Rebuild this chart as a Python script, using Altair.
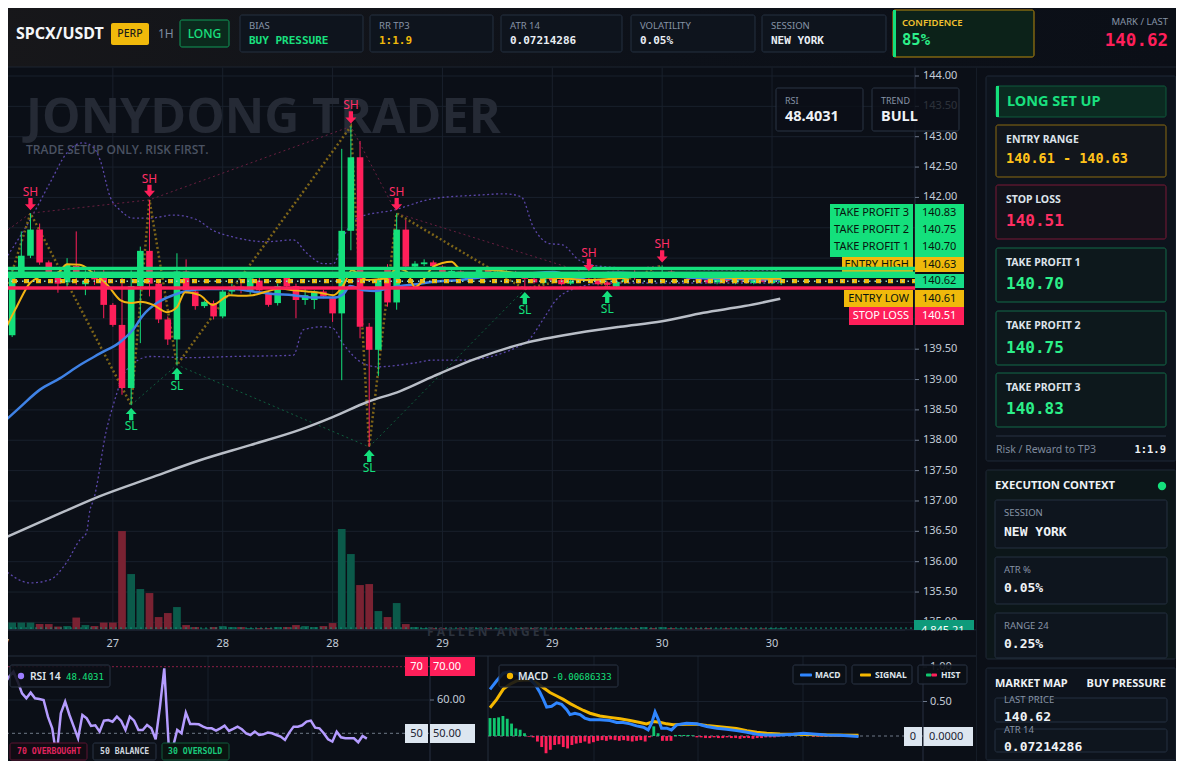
import altair as alt
import pandas as pd

# ---------------- values ----------------
OPEN = [140.43,139.73,140.75,141.04,141.47,140.93,140.69,140.60,140.87,140.57,
        140.74,140.68,140.23,139.90,138.86,140.54,141.12,140.58,139.99,139.66,
        140.78,140.45,140.21,140.26,140.04,140.45,140.53,140.45,140.63,140.43,
        140.26,140.69,140.54,140.31,140.31,140.45,140.34,140.09,141.45,142.66,
        139.87,139.49,140.82,140.27,141.47,140.86,140.90,140.93,140.86,140.76,
        140.78,140.69,140.70,140.84,140.74,140.77,140.77,140.73,140.66,140.59,
        140.67,140.64,140.58,140.69,140.66,140.64,140.60,140.53,140.61,140.74,
        140.72,140.76,140.74,140.78,140.74,140.70,140.67,140.64,140.60,140.67,
        140.60,140.63,140.59,140.65,140.59,140.60]
HIGH = [140.48,140.80,141.44,141.74,141.57,140.96,140.78,141.00,141.44,140.80,
        140.80,140.83,140.26,140.72,140.80,141.19,141.96,140.62,140.04,141.08,
        140.98,140.47,140.30,140.30,140.50,140.58,140.60,140.72,140.68,140.46,
        140.58,140.72,140.58,140.50,140.47,140.48,140.37,142.80,143.17,142.93,
        139.93,140.70,140.90,141.74,141.63,140.95,140.98,140.96,140.88,140.82,
        140.80,140.74,140.85,140.86,140.79,140.80,140.79,140.75,140.69,140.70,
        140.69,140.66,140.65,140.71,140.74,140.66,140.62,140.62,140.73,140.80,
        140.77,140.78,140.88,140.80,140.77,140.72,140.69,140.66,140.68,140.68,
        140.66,140.65,140.66,140.67,140.67,140.67]
LOW = [139.57,139.70,140.70,141.00,140.89,140.70,140.43,140.50,140.56,140.39,
       140.56,140.01,139.87,138.75,138.58,139.60,140.37,139.93,139.57,139.24,
       140.42,140.15,140.18,139.99,140.01,140.40,140.42,140.40,140.45,140.20,
       140.22,140.52,140.01,140.23,140.16,140.34,139.95,138.99,141.13,139.68,
       137.89,139.06,140.20,140.15,140.82,140.82,140.87,140.85,140.74,140.73,
       140.68,140.66,140.68,140.72,140.70,140.73,140.70,140.49,140.58,140.57,
       140.61,140.55,140.56,140.62,140.60,140.55,140.51,140.52,140.59,140.64,
       140.70,140.72,140.72,140.72,140.71,140.64,140.59,140.58,140.57,140.60,
       140.57,140.59,140.57,140.60,140.57,140.56]
CLOSE = [139.62,140.75,141.04,141.47,140.93,140.74,140.58,140.89,140.69,140.62,
         140.65,140.23,139.90,138.86,140.54,141.12,140.58,139.99,139.66,140.78,
         140.47,140.21,140.28,140.04,140.45,140.53,140.50,140.67,140.47,140.23,
         140.54,140.54,140.31,140.39,140.45,140.37,140.09,141.45,142.66,139.87,
         139.49,140.65,140.27,141.47,140.86,140.91,140.93,140.87,140.76,140.79,
         140.69,140.71,140.83,140.74,140.77,140.78,140.73,140.66,140.60,140.68,
         140.63,140.57,140.63,140.65,140.62,140.57,140.56,140.61,140.70,140.72,
         140.75,140.74,140.77,140.74,140.75,140.66,140.61,140.60,140.66,140.62,
         140.64,140.61,140.64,140.61,140.65,140.62]
VOLUME = [33000,27000,27000,27000,21000,21000,11000,13000,47000,17000,
          13000,27000,27000,393000,221000,161000,145000,49000,65000,89000,
          17000,9000,3000,9000,13000,9000,9000,5000,5000,5000,
          9000,9000,17000,13000,9000,13000,25000,401000,301000,177000,
          181000,73000,49000,105000,21000,9000,5000,5000,5000,3000,
          4000,3000,6000,5000,4000,3000,4000,6000,5000,4000,
          3000,4000,3000,5000,6000,4000,5000,6000,4000,5000,
          9000,5000,9000,5000,4000,3000,4000,5000,3000,4000,
          3000,4000,3000,4000,5000,4845.21]

TIME_IDX = [0, 12, 24, 36, 48, 60, 72, 84]
TIME_LABELS = ["27", "27", "28", "28", "29", "29", "30", "30"]
PRICE_TICKS = [144.0, 143.5, 143.0, 142.5, 142.0, 141.5, 141.0, 140.5, 140.0, 139.5,
               139.0, 138.5, 138.0, 137.5, 137.0, 136.5, 136.0, 135.5, 135.0]
# the labels of 141.50 ... 140.00 sit under the level tags in the picture
PRICE_LABEL_TICKS = [144.0, 143.5, 143.0, 142.5, 142.0, 139.5, 139.0, 138.5, 138.0, 137.5,
                     137.0, 136.5, 136.0, 135.5, 135.0]

EMA_FAST_IDX = [-0.3,0.4,1.5,2.95,4.0,6.0,7.0,8.4,9.8,11.4,12.8,13.9,15.0,16.4,17.9,19.0,19.9,
                21.5,22.9,24.8,25.9,27.3,28.8,30.3,31.7,33.2,34.6,36.1,37.2,38.1,39.0,39.7,40.8,
                41.9,43.0,44.1,45.0,45.9,47.0,49.0,49.9,52.1,55.7,58.4,61.1,63.8,67.4,72.0,76.5,81.0,85.0]
EMA_FAST = [139.62,139.87,140.20,140.59,140.69,140.76,140.90,140.89,140.76,140.56,140.31,140.26,
            140.28,140.23,140.11,140.19,140.44,140.39,140.23,140.39,140.38,140.39,140.45,
            140.50,140.47,140.45,140.43,140.39,140.56,140.80,140.72,140.64,140.65,140.67,140.83,
            140.78,140.52,140.64,140.86,140.94,140.83,140.82,140.76,140.69,140.67,140.64,140.67,
            140.75,140.69,140.67,140.66]
EMA_SLOW_IDX = [-0.3,1.9,4.0,6.2,8.4,10.6,12.8,14.2,15.3,16.8,18.6,20.1,22.2,25.2,27.3,29.5,31.7,
                33.9,36.1,37.2,37.9,39.4,40.8,41.9,43.4,45.2,47.0,49.9,52.1,53.9,57.0,60.2,62.9,
                64.7,67.4,72.0,76.5,85.0]
EMA_SLOW = [138.25,138.55,138.83,139.02,139.24,139.43,139.62,139.82,140.06,140.26,140.39,140.46,
            140.49,140.49,140.45,140.41,140.39,140.35,140.35,140.41,140.54,140.47,140.46,140.50,
            140.54,140.57,140.61,140.64,140.68,140.70,140.74,140.77,140.66,140.74,140.76,140.72,
            140.67,140.65]
SMA_IDX = [-0.3,5.1,10.6,16.1,21.5,27.0,32.4,36.0,39.8,43.4,47.1,51.6,57.0,62.9,67.4,72.0,76.5,81.0,84.9]
SMA = [136.36,136.72,137.08,137.38,137.67,137.92,138.17,138.38,138.63,138.81,139.06,139.34,
       139.60,139.77,139.87,139.96,140.10,140.21,140.33]
BB_UP_IDX = [-0.3,2.95,5.13,6.96,8.74,9.83,10.6,11.7,12.8,14.2,16.1,18.6,21.2,22.9,25.1,28.8,31.7,
             33.2,35.0,36.1,37.2,39.0,42.6,47.0,52.1,54.8,56.6,57.9,59.7,61.1,62.9,65.6,72.0,84.9]
BB_UP = [140.86,141.63,142.24,142.73,142.90,142.83,142.62,142.01,141.79,141.66,141.66,141.71,
         141.63,141.46,141.35,141.27,141.30,141.08,140.91,140.91,141.35,141.68,141.79,141.98,
         142.04,142.06,142.01,141.52,141.24,141.22,140.97,140.86,140.82,140.80]
BB_LO_IDX = [-0.3,3.0,5.1,7.0,8.4,9.1,9.5,9.9,11.3,12.1,13.5,16.1,20.1,25.1,31.7,32.8,35.0,36.0,
             37.1,39.3,40.9,44.8,47.0,50.2,57.0,59.3,60.4,62.9,65.6,84.9]
BB_LO = [135.92,135.65,135.70,136.00,136.36,136.47,136.85,137.02,138.17,138.61,139.16,139.38,
         139.36,139.38,139.40,139.82,139.87,139.85,139.60,139.27,139.21,139.27,139.32,139.32,
         139.60,140.06,140.31,140.52,140.59,140.59]

SH_IDX = [3, 16, 38, 43, 64, 72]
SH_PRICE = [141.74, 141.96, 143.17, 141.74, 140.74, 140.88]
SL_IDX = [14, 19, 40, 57, 66]
SL_PRICE = [138.58, 139.24, 137.89, 140.49, 140.51]
ZZ_IDX = [-0.3, 3, 14, 16, 19, 38, 40, 43, 57, 64, 66, 72]
ZZ_PRICE = [140.15, 141.74, 138.58, 141.96, 139.24, 143.17, 137.89, 141.74, 140.49, 140.74, 140.51, 140.88]
HI_LINK_IDX = [-0.3, 3, 16, 38, 43, 64, 72]
HI_LINK_PRICE = [141.37, 141.74, 141.96, 143.17, 141.74, 140.74, 140.88]

TP_LEVELS = [140.83, 140.75, 140.70]
ENTRY_HIGH, LAST_PRICE, ENTRY_LOW, STOP_LOSS = 140.63, 140.62, 140.61, 140.51

RSI = [60,65,67,68.5,65.5,62,60.5,62.2,60.5,60.3,
       60,55,51.5,43,56,59.5,55.5,52,48.5,55.5,
       54.5,52.2,52.4,50.5,53.8,54,53.5,55,53.7,51,
       55,53.8,51,51,52.5,51.5,48.2,58,69.5,47,
       45.8,51,50,56.2,52.8,52.8,52.7,52,51.5,51.5,
       50.8,51.5,52.3,50.7,51.3,52,51.2,50,49.5,50.5,
       49.5,49.7,50.2,50,49.5,49,48,50.2,52,52,
       52.4,53.5,53.8,51.7,51.5,50,48.2,47.5,50.5,48.8,
       48.5,48.5,48.5,47.3,49.2,48.4]
RSI_TICKS = [60, 40]

MACD_IDX = [0,1.55,3.09,4.64,6.19,7.73,9.28,10.44,11.6,12.37,13.15,14.3,15.47,16.6,17.8,18.56,19.7,
            20.9,22.0,23.2,25.5,27.8,29.4,30.9,32.5,34.0,35.6,36.7,37.5,38.3,39.1,39.8,41.0,42.1,
            43.3,45.6,48.0,50.3,52.6,54.9,57.2,59.6,61.9,64.2,67.3,70.4,72.7,75.0,78.1,81.2,85.5]
MACD = [0.676,0.80,0.91,0.93,0.90,0.87,0.82,0.75,0.63,0.53,0.42,0.43,0.48,0.46,0.38,0.31,0.33,
        0.31,0.26,0.235,0.235,0.225,0.196,0.196,0.176,0.147,0.127,0.088,0.186,0.348,0.235,0.113,
        0.113,0.088,0.162,0.186,0.176,0.137,0.113,0.098,0.078,0.054,0.025,0.015,0.015,0.025,0.039,
        0.029,0.015,0.010,-0.007]
SIGNAL_IDX = [0,1.55,3.09,4.64,6.19,7.73,9.28,10.8,12.4,13.9,15.5,17.0,18.6,20.1,21.7,23.2,25.5,
              27.8,30.2,32.5,34.8,36.3,37.9,39.4,41.0,42.5,45.6,48.0,50.3,52.6,54.9,57.2,59.6,
              61.9,64.2,67.3,70.4,73.5,78.1,85.5]
SIGNAL = [0.41,0.53,0.68,0.75,0.80,0.81,0.81,0.77,0.70,0.63,0.58,0.53,0.47,0.42,0.37,0.33,0.29,
          0.27,0.25,0.225,0.196,0.176,0.21,0.20,0.176,0.162,0.172,0.172,0.152,0.137,0.123,0.108,
          0.078,0.054,0.039,0.029,0.025,0.020,0.015,0.010]
HIST = [0.26,0.26,0.27,0.29,0.25,0.18,0.11,0.09,0.04,-0.01,
        -0.02,-0.08,-0.16,-0.25,-0.20,-0.13,-0.12,-0.16,-0.18,-0.13,
        -0.11,-0.10,-0.08,-0.11,-0.09,-0.07,-0.06,-0.07,-0.05,-0.06,
        -0.07,-0.06,-0.07,-0.08,-0.07,-0.06,-0.08,-0.02,0.14,0.04,
        -0.07,-0.07,-0.07,0.015,0.015,0.015,0.015,0.01,
        -0.02,-0.02,-0.03,-0.03,-0.02,-0.03,-0.03,-0.02,-0.03,-0.03,
        -0.04,-0.03,-0.03,-0.04,-0.03,-0.03,-0.02,-0.02,-0.02,-0.01,
        0.008,0.01,0.01,0.012,0.01,0.008,0.006,-0.01,-0.01,-0.012,
        -0.01,-0.008,-0.01,-0.012,-0.01,-0.008,-0.006,-0.007]
MACD_TICKS = [1.0, 0.5]

# ---------------- styles ----------------
BG = "#0b0f17"
GRID = "#19202c"
AXIS = "#283142"
GREEN = "#14e07c"
RED = "#ff1f5a"
YELLOW = "#f0b90b"
WHITE = "#e9eef4"
MUTED = "#8693a6"
AXTXT = "#c3ccd8"
DARK = "#08140e"
SANS = "Noto Sans"
MONO = "DejaVu Sans Mono"
NB = "\u00a0"

# ---------------- scales (page pixel frame + data frames) ----------------
def sc(dom, rng):
    return alt.Scale(domain=list(dom), range=list(rng), nice=False, zero=False)

OFF = 8
PXS = sc([OFF, 1184 - OFF], [0, 1184 - 2 * OFF])
PYS = sc([OFF, 769 - OFF], [0, 769 - 2 * OFF])
MAIN_X0, MAIN_STEP = 3.0, 9.155
P_TOP, P_PER = 76.0, 60.71
XMAIN = sc([0, 85], [MAIN_X0 - OFF, MAIN_X0 + MAIN_STEP * 85 - OFF])
YMAIN = sc([135, 144], [P_TOP + 9 * P_PER - OFF, P_TOP - OFF])
YVOL = sc([0, 400000], [629.3 - OFF, 529.3 - OFF])
SUB = 4.31
XRSI = sc([0, 85], [0.5 - OFF, 0.5 + SUB * 85 - OFF])
YRSI = sc([40, 70], [766.6 - OFF, 666.7 - OFF])
XMACD = sc([0, 85], [490 - OFF, 490 + SUB * 85 - OFF])
YMACD = sc([0, 1], [736 - OFF, 667 - OFF])


def X(f, s):
    return alt.X(f, scale=s, axis=None)


def Y(f, s):
    return alt.Y(f, scale=s, axis=None)


def rects(rows, radius=0):
    df = pd.DataFrame(rows, columns=["x1", "y1", "x2", "y2", "f", "s", "w"])
    return alt.Chart(df).mark_rect(cornerRadius=radius).encode(
        x=X("x1:Q", PXS), x2="x2:Q", y=Y("y1:Q", PYS), y2="y2:Q",
        fill=alt.Fill("f:N", scale=None), stroke=alt.Stroke("s:N", scale=None),
        strokeWidth=alt.StrokeWidth("w:Q", scale=None))


def texts(rows, font=SANS, weight="normal", align="left", baseline="middle"):
    # rows: (text, x, y, font size, colour)
    df = pd.DataFrame(rows, columns=["t", "x", "y", "s", "c"])
    return alt.Chart(df).mark_text(font=font, fontWeight=weight, align=align, baseline=baseline).encode(
        x=X("x:Q", PXS), y=Y("y:Q", PYS), text="t:N",
        size=alt.Size("s:Q", scale=None), color=alt.Color("c:N", scale=None))


def hrule(vals, ys, x1, x2, color, width=1.0, dash=None, opacity=1.0):
    df = pd.DataFrame({"v": list(vals)})
    df["a"] = x1
    df["b"] = x2
    kw = dict(color=color, strokeWidth=width, opacity=opacity)
    if dash:
        kw["strokeDash"] = dash
    return alt.Chart(df).mark_rule(**kw).encode(x=X("a:Q", PXS), x2="b:Q", y=Y("v:Q", ys))


def vrule(vals, xs, y1, y2, color, width=1.0):
    df = pd.DataFrame({"v": list(vals)})
    df["a"] = y1
    df["b"] = y2
    return alt.Chart(df).mark_rule(color=color, strokeWidth=width).encode(
        x=X("v:Q", xs), y=Y("a:Q", PYS), y2="b:Q")


def line(xs, ys, XS, YS, color, width, dash=None, opacity=1.0, interp="linear"):
    n = min(len(xs), len(ys))
    df = pd.DataFrame({"x": list(xs)[:n], "y": list(ys)[:n]})
    kw = dict(color=color, strokeWidth=width, opacity=opacity, interpolate=interp)
    if dash:
        kw["strokeDash"] = dash
    return alt.Chart(df).mark_line(**kw).encode(x=X("x:Q", XS), y=Y("y:Q", YS))


def ytexts(vals, labels, ys, x, size, color, align="left"):
    df = pd.DataFrame({"v": list(vals), "t": list(labels)})
    df["x"] = x
    return alt.Chart(df).mark_text(font=SANS, fontSize=size, color=color, align=align, baseline="middle").encode(
        x=X("x:Q", PXS), y=Y("v:Q", ys), text="t:N")


def dots(rows, size):
    df = pd.DataFrame(rows, columns=["x", "y", "c"])
    return alt.Chart(df).mark_circle(size=size, opacity=1).encode(
        x=X("x:Q", PXS), y=Y("y:Q", PYS), color=alt.Color("c:N", scale=None))


L = []

# ---------------- frame ----------------
hdr = pd.DataFrame({"x1": [0], "x2": [1184], "y1": [0], "y2": [67]})
L.append(alt.Chart(hdr).mark_rect(color={
    "gradient": "linear", "x1": 0, "x2": 1, "y1": 0, "y2": 0,
    "stops": [{"offset": 0, "color": "#17171a"}, {"offset": 0.55, "color": "#0d1119"},
              {"offset": 1, "color": "#0b0f17"}]}).encode(
    x=X("x1:Q", PXS), x2="x2:Q", y=Y("y1:Q", PYS), y2="y2:Q"))
L.append(rects([
    (0, 66.5, 1184, 67.5, "#1d2531", "transparent", 0),
    (976, 67.5, 977, 769, "#151c27", "transparent", 0),
    (207.5, 656, 208.5, 769, GRID, "transparent", 0),
    (311.5, 656, 312.5, 769, GRID, "transparent", 0),
    (593.5, 656, 594.5, 769, GRID, "transparent", 0),
    (697.5, 656, 698.5, 769, GRID, "transparent", 0),
    (802.5, 656, 803.5, 769, GRID, "transparent", 0),
]))

# ---------------- main chart grid ----------------
L.append(hrule(PRICE_TICKS, YMAIN, 0, 915, GRID))
L.append(vrule(TIME_IDX, XMAIN, 67.5, 630, GRID))
L.append(hrule(RSI_TICKS, YRSI, 0, 430, GRID))
L.append(hrule([0.5], YMACD, 488, 923, GRID))

# watermark
L.append(texts([("JONYDONG TRADER", 26, 133, 48.5, "#252a35")], font="Open Sans", weight="bold",
               baseline="alphabetic"))
L.append(texts([("TRADE SETUP ONLY. RISK FIRST.", 26, 150, 12, "#4a5262")], font="Open Sans", weight=600))

# ---------------- candles / volume ----------------
cd = pd.DataFrame({"i": list(range(len(OPEN))), "o": OPEN, "h": HIGH, "l": LOW, "c": CLOSE, "v": VOLUME})
cd["up"] = cd["c"] >= cd["o"]
cd["col"] = [GREEN if u else RED for u in cd["up"]]
cd["vcol"] = ["#0b5a4a" if u else "#7a2232" for u in cd["up"]]
cd["x1"] = cd["i"] - 0.36
cd["x2"] = cd["i"] + 0.36
cd["vx1"] = cd["i"] - 0.42
cd["vx2"] = cd["i"] + 0.42
cd["z"] = 0.0

L.append(alt.Chart(cd).mark_rect().encode(
    x=X("vx1:Q", XMAIN), x2="vx2:Q", y=Y("v:Q", YVOL), y2="z:Q", color=alt.Color("vcol:N", scale=None)))
L.append(hrule([VOLUME[-1]], YVOL, 0, 915, "#0e9a7a", 1, dash=[2, 3]))
L.append(texts([(" ".join("FALLEN") + NB + NB + NB + " ".join("ANGEL"), 427, 632, 12, "#2c323d")],
               weight="bold"))

# indicators behind candles
L.append(line(BB_UP_IDX, BB_UP, XMAIN, YMAIN, "#5a46a8", 1.3, dash=[2, 2.5], interp="monotone"))
L.append(line(BB_LO_IDX, BB_LO, XMAIN, YMAIN, "#5a46a8", 1.3, dash=[2, 2.5], interp="monotone"))
L.append(line(HI_LINK_IDX, HI_LINK_PRICE, XMAIN, YMAIN, "#6a1f40", 1, dash=[2, 3]))
L.append(line(SL_IDX, SL_PRICE, XMAIN, YMAIN, "#0f5e3e", 1, dash=[2, 3]))
L.append(line(ZZ_IDX, ZZ_PRICE, XMAIN, YMAIN, "#7d6418", 2.5, dash=[2, 2.5]))
L.append(line(SMA_IDX, SMA, XMAIN, YMAIN, "#b9bec7", 2.5, interp="monotone"))

L.append(alt.Chart(cd).mark_rule(strokeWidth=1).encode(
    x=X("i:Q", XMAIN), y=Y("l:Q", YMAIN), y2="h:Q", color=alt.Color("col:N", scale=None)))
L.append(alt.Chart(cd).mark_rect().encode(
    x=X("x1:Q", XMAIN), x2="x2:Q", y=Y("o:Q", YMAIN), y2="c:Q", color=alt.Color("col:N", scale=None)))

L.append(line(EMA_SLOW_IDX, EMA_SLOW, XMAIN, YMAIN, "#3f82e6", 2.5, interp="monotone"))
L.append(line(EMA_FAST_IDX, EMA_FAST, XMAIN, YMAIN, "#f2b313", 2, interp="monotone"))

# ---------------- price axis ----------------
L.append(rects([
    (914.5, 67.5, 915.5, 630, AXIS, "transparent", 0),
    (0, 629.5, 976, 630.5, AXIS, "transparent", 0),
]))
L.append(ytexts(PRICE_LABEL_TICKS, [f"{p:.2f}" for p in PRICE_LABEL_TICKS], YMAIN, 923, 11, AXTXT))
L.append(hrule(PRICE_LABEL_TICKS, YMAIN, 915, 919, "#6c7789"))
tl = pd.DataFrame({"i": TIME_IDX, "t": TIME_LABELS})
tl["y"] = 644
L.append(alt.Chart(tl).mark_text(font=SANS, fontSize=11, color=AXTXT, align="center", baseline="middle").encode(
    x=X("i:Q", XMAIN), y=Y("y:Q", PYS), text="t:N"))

# level tags
L.append(rects([
    (830, 204, 913, 257, GREEN, "transparent", 0),
    (915, 204, 964, 257, GREEN, "transparent", 0),
    (842, 257, 913, 272, YELLOW, "transparent", 0),
    (915, 257, 964, 272, YELLOW, "transparent", 0),
    (915, 274, 964, 288, "#17dc88", "transparent", 0),
    (844, 290, 913, 307, YELLOW, "transparent", 0),
    (915, 290, 964, 307, YELLOW, "transparent", 0),
    (849, 307, 913, 325, RED, "transparent", 0),
    (915, 307, 964, 325, RED, "transparent", 0),
]))
L.append(texts([
    ("TAKE PROFIT 3", 909, 213, 11, DARK), ("TAKE PROFIT 2", 909, 229.7, 11, DARK),
    ("TAKE PROFIT 1", 909, 246.7, 11, DARK), ("ENTRY HIGH", 909, 264.5, 11, DARK),
    ("ENTRY LOW", 909, 298.5, 11, DARK), ("STOP LOSS", 909, 316, 11, "#ffffff"),
], align="right"))
L.append(texts([
    (f"{TP_LEVELS[0]:.2f}", 922, 213, 11, DARK), (f"{TP_LEVELS[1]:.2f}", 922, 229.7, 11, DARK),
    (f"{TP_LEVELS[2]:.2f}", 922, 246.7, 11, DARK), (f"{ENTRY_HIGH:.2f}", 922, 264.5, 11, DARK),
    (f"{LAST_PRICE:.2f}", 922, 281, 11, DARK), (f"{ENTRY_LOW:.2f}", 922, 298.5, 11, DARK),
    (f"{STOP_LOSS:.2f}", 922, 316, 11, "#ffffff"),
]))

# level lines
L.append(hrule(TP_LEVELS, YMAIN, 0, 915, GREEN, 3.5))
L.append(hrule([ENTRY_HIGH, ENTRY_LOW], YMAIN, 0, 915, YELLOW, 3, dash=[5, 7]))
L.append(hrule([LAST_PRICE], YMAIN, 0, 915, "#8fd9c6", 1.5, dash=[1.5, 4]))
L.append(hrule([STOP_LOSS], YMAIN, 0, 915, RED, 3.5))

# swing markers
DOWN = "M-0.35,-1L0.35,-1L0.35,0L0.9,0L0,1L-0.9,0L-0.35,0Z"
UP = "M-0.35,1L0.35,1L0.35,0L0.9,0L0,-1L-0.9,0L-0.35,0Z"
shd = pd.DataFrame({"i": SH_IDX, "p": SH_PRICE})
sld = pd.DataFrame({"i": SL_IDX, "p": SL_PRICE})
L.append(alt.Chart(shd).mark_point(shape=DOWN, filled=True, size=150, color=RED, opacity=1,
                                   strokeWidth=0, yOffset=-9).encode(x=X("i:Q", XMAIN), y=Y("p:Q", YMAIN)))
L.append(alt.Chart(shd).mark_text(text="SH", font=SANS, fontSize=12, color="#ff2e66", yOffset=-21,
                                  baseline="middle").encode(x=X("i:Q", XMAIN), y=Y("p:Q", YMAIN)))
L.append(alt.Chart(sld).mark_point(shape=UP, filled=True, size=150, color=GREEN, opacity=1,
                                   strokeWidth=0, yOffset=9).encode(x=X("i:Q", XMAIN), y=Y("p:Q", YMAIN)))
L.append(alt.Chart(sld).mark_text(text="SL", font=SANS, fontSize=12, color=GREEN, yOffset=21,
                                  baseline="middle").encode(x=X("i:Q", XMAIN), y=Y("p:Q", YMAIN)))

# RSI / TREND cards
L.append(rects([
    (776, 88, 863, 131, "rgba(11,15,23,0.82)", "#2a3444", 1),
    (872, 88, 959, 131, "rgba(11,15,23,0.82)", "#2a3444", 1),
], radius=2))
L.append(texts([("RSI", 785, 100.5, 9, MUTED), ("TREND", 881, 100.5, 9, MUTED)]))
L.append(texts([("48.4031", 785, 116.5, 14.5, "#eef2f6"),
                ("BULL", 881, 116.5, 14.5, "#eef2f6")], weight="bold"))

# volume value tag
L.append(rects([(914, 620, 974, 630, "#0e9a7a", "transparent", 0)]))
L.append(texts([("4,845.21", 921, 631, 11, "#ffffff")]))
L.append(rects([(905, 630.6, 976, 655.4, BG, "transparent", 0),
                (0, 655.5, 976, 656.5, "#252e3d", "transparent", 0),
                (487.5, 656, 488.5, 769, "#252e3d", "transparent", 0),
                (429.5, 656, 430.5, 769, AXIS, "transparent", 0),
                (922.5, 656, 923.5, 769, AXIS, "transparent", 0)]))

# ---------------- RSI panel ----------------
L.append(hrule([70], YRSI, 0, 430, "#8a1f44", 1, dash=[2, 2]))
L.append(hrule([50], YRSI, 0, 430, "#6e7888", 1, dash=[3, 3]))
L.append(line(list(range(len(RSI))), RSI, XRSI, YRSI, "#b59cff", 2.5))
L.append(ytexts(RSI_TICKS, [f"{v:.2f}" for v in RSI_TICKS], YRSI, 437, 11, AXTXT))
L.append(hrule(RSI_TICKS, YRSI, 430, 434, "#6c7789"))
L.append(rects([
    (405, 657, 428, 676, RED, "transparent", 0), (430, 657, 475, 676, RED, "transparent", 0),
    (405, 724, 428, 743, "#dde6f0", "transparent", 0), (430, 724, 475, 743, "#dde6f0", "transparent", 0),
]))
L.append(texts([("70", 416.5, 666.5, 11, "#ffffff"), ("50", 416.5, 733.5, 11, "#1b2330")], align="center"))
L.append(texts([("70.00", 433, 666.5, 11, "#ffffff"), ("50.00", 433, 733.5, 11, "#1b2330")]))
L.append(rects([
    (10, 665, 110, 687, "rgba(11,15,23,0.88)", "#2a3444", 1),
    (10, 743, 87, 760, "#110b13", "#5c1532", 1),
    (93, 743, 156, 760, "#0d1118", "#2a3444", 1),
    (162, 743, 229, 760, "#0a1410", "#105c3c", 1),
], radius=2))
L.append(dots([(21, 676, "#9d7dff")], 40))
L.append(texts([("RSI 14", 30, 676.5, 10.3, "#dfe5ec")], weight=600))
L.append(texts([("48.4031", 66, 676.5, 9, GREEN)], font=MONO))
L.append(texts([("70 OVERBOUGHT", 17, 751.5, 8.2, "#e0245e"), ("50 BALANCE", 100, 751.5, 8.2, "#cfd6df"),
                ("30 OVERSOLD", 168, 751.5, 8.2, "#19c77a")], font=MONO, weight="bold"))

# ---------------- MACD panel ----------------
hd = pd.DataFrame({"i": list(range(len(HIST))), "h": HIST})
hd["x1"] = hd["i"] - 0.33
hd["x2"] = hd["i"] + 0.33
hd["z"] = 0.0
hd["col"] = ["#10c76f" if v >= 0 else RED for v in hd["h"]]
L.append(hrule([0], YMACD, 488, 923, "#6e7888", 1, dash=[3, 3]))
L.append(alt.Chart(hd).mark_rect().encode(
    x=X("x1:Q", XMACD), x2="x2:Q", y=Y("h:Q", YMACD), y2="z:Q", color=alt.Color("col:N", scale=None)))
L.append(line(SIGNAL_IDX, SIGNAL, XMACD, YMACD, "#f5b800", 3))
L.append(line(MACD_IDX, MACD, XMACD, YMACD, "#2f86ff", 3))
L.append(ytexts(MACD_TICKS, [f"{v:.2f}" for v in MACD_TICKS], YMACD, 930, 11, AXTXT))
L.append(hrule(MACD_TICKS, YMACD, 923, 927, "#6c7789"))
L.append(rects([
    (904, 727, 922, 746, "#dde6f0", "transparent", 0), (923.5, 727, 973, 746, "#dde6f0", "transparent", 0),
]))
L.append(texts([("0", 913, 736.5, 11, "#1b2330")], align="center"))
L.append(texts([("0.0000", 929, 736.5, 11, "#1b2330")]))
L.append(rects([
    (499, 665, 618, 687, "rgba(11,15,23,0.88)", "#2a3444", 1),
    (793, 665, 846, 684, "rgba(11,15,23,0.92)", "#2a3444", 1),
    (852, 665, 912, 684, "rgba(11,15,23,0.92)", "#2a3444", 1),
    (918, 665, 967, 684, "rgba(11,15,23,0.92)", "#2a3444", 1),
], radius=2))
L.append(rects([
    (800, 673.5, 812, 676.5, "#2f86ff", "transparent", 0),
    (860, 673.5, 871, 676.5, "#f5b800", "transparent", 0),
    (926, 673.5, 931.5, 676.5, "#10c76f", "transparent", 0),
    (931.5, 673.5, 937, 676.5, RED, "transparent", 0),
], radius=1))
L.append(dots([(510, 676, "#f5b800")], 40))
L.append(texts([("MACD", 518, 676.5, 10.3, "#dfe5ec")], weight=600))
L.append(texts([("-0.00686333", 552, 676.5, 9, GREEN)], font=MONO))
L.append(texts([("MACD", 815, 674.5, 8.5, "#dfe5ec"), ("SIGNAL", 875, 674.5, 8.5, "#dfe5ec"),
                ("HIST", 941, 674.5, 8.5, "#dfe5ec")], weight="bold"))

# ---------------- right panel ----------------
L.append(rects([
    (986, 76, 1176, 461, "#0d131c", "#1f2836", 1),
    (996, 86, 1166, 117, "#0b2a21", "#0f5a3c", 1),
    (996, 125, 1166, 177, "#12161c", "#8a6a10", 1),
    (996, 185, 1166, 239, "#13121a", "#7a1836", 1),
    (996, 248, 1166, 302, "#0d181c", "#136b48", 1),
    (996, 311, 1166, 365, "#0d181c", "#136b48", 1),
    (996, 373, 1166, 427, "#0d181c", "#136b48", 1),
    (986, 470, 1176, 659, "#0c1619", "#1f2836", 1),
    (995, 500, 1167, 548, "#0e151e", "#243040", 1),
    (995, 557, 1167, 604, "#0e151e", "#243040", 1),
    (995, 613, 1167, 658, "#0e151e", "#243040", 1),
    (986, 668, 1176, 760, "#0d131c", "#1f2836", 1),
    (995, 698, 1167, 722, "#0e151e", "#243040", 1),
    (995, 729, 1167, 752, "#0e151e", "#243040", 1),
], radius=2))
L.append(rects([
    (996, 86, 999, 117, GREEN, "transparent", 0),
    (996, 435.5, 1166, 436.5, "#283242", "transparent", 0),
]))
L.append(dots([(1162, 486, GREEN)], 70))
L.append(texts([
    ("LONG SET UP", 1007, 101.5, 14.5, "#19e07f"),
    ("ENTRY RANGE", 1006, 140, 10.5, "#dde3ea"), ("STOP LOSS", 1006, 200, 10.5, "#dde3ea"),
    ("TAKE PROFIT 1", 1006, 263, 10.5, "#dde3ea"), ("TAKE PROFIT 2", 1006, 326, 10.5, "#dde3ea"),
    ("TAKE PROFIT 3", 1006, 388, 10.5, "#dde3ea"),
    ("EXECUTION CONTEXT", 995, 486, 11.3, "#eef2f6"), ("MARKET MAP", 995, 683.5, 11, "#eef2f6"),
], weight="bold"))
L.append(texts([("BUY PRESSURE", 1166, 683.5, 11, "#eef2f6")], weight="bold", align="right"))
L.append(texts([
    (f"{ENTRY_LOW:.2f} - {ENTRY_HIGH:.2f}", 1006, 159, 13.5, "#ffc21a"),
    (f"{STOP_LOSS:.2f}", 1006, 221, 16, "#ff2e63"),
    (f"{TP_LEVELS[2]:.2f}", 1006, 284, 16, "#2cf08a"),
    (f"{TP_LEVELS[1]:.2f}", 1006, 347.5, 16, "#2cf08a"),
    (f"{TP_LEVELS[0]:.2f}", 1006, 409, 16, "#2cf08a"),
    ("NEW YORK", 1004, 532, 13, "#eef2f6"), ("0.05%", 1004, 588, 13, "#eef2f6"),
    ("0.25%", 1004, 644, 13, "#eef2f6"), (f"{LAST_PRICE:.2f}", 1004, 717, 13, "#eef2f6"),
    ("0.07214286", 1004, 747, 13, "#eef2f6"),
], font=MONO, weight="bold"))
L.append(texts([("1:1.9", 1166, 450, 10.5, "#eef2f6")], font=MONO, weight="bold", align="right"))
L.append(texts([
    ("Risk / Reward to TP3", 996, 450, 10.5, "#7d899b"), ("SESSION", 1004, 513, 9.5, MUTED),
    ("ATR %", 1004, 569.5, 9.5, MUTED), ("RANGE 24", 1004, 625.5, 9.5, MUTED),
    ("LAST PRICE", 1004, 699.5, 9.5, MUTED), ("ATR 14", 1004, 729.5, 9.5, MUTED),
]))

# ---------------- header ----------------
L.append(rects([
    (111, 23, 149, 45, YELLOW, "transparent", 0),
    (180, 20, 229, 47, "#0b2a1d", "#109a58", 1),
    (240, 15, 363, 52, "#0e141d", "#243040", 1),
    (370, 15, 493, 52, "#0e141d", "#243040", 1),
    (501, 15, 622, 52, "#0e141d", "#243040", 1),
    (631, 15, 755, 52, "#0e141d", "#243040", 1),
    (762, 15, 886, 52, "#0e141d", "#243040", 1),
    (893, 10, 1034, 57, "#0c2219", "#b8890c", 1),
], radius=2))
L.append(rects([(893, 10, 896, 57, GREEN, "transparent", 0)]))
L.append(texts([("SPCX/USDT", 16, 34, 16, "#f4f6f9")], weight="bold"))
L.append(texts([("PERP", 130, 34, 10.5, "#1a1a1a"), ("LONG", 204.5, 34, 12, "#19e07f")],
               weight=500, align="center"))
L.append(texts([
    ("1H", 158, 34, 12, "#7e8ba0"), ("BIAS", 249, 26, 9.5, MUTED), ("RR TP3", 379, 26, 9.5, MUTED),
    ("ATR 14", 510, 26, 9.5, MUTED), ("VOLATILITY", 640, 26, 9.5, MUTED), ("SESSION", 771, 26, 9.5, MUTED),
]))
L.append(texts([("CONFIDENCE", 902, 23, 9.5, "#f2c230")], weight=600))
L.append(texts([
    ("BUY PRESSURE", 249, 40.5, 11, "#19e07f"), ("1:1.9", 379, 40.5, 11, YELLOW),
    ("0.07214286", 510, 40.5, 11, WHITE), ("0.05%", 640, 40.5, 11, WHITE),
    ("NEW YORK", 771, 40.5, 11, WHITE), ("85%", 902, 40, 15.5, "#2cf08a"),
], font=MONO, weight="bold"))
L.append(texts([("MARK / LAST", 1168, 22, 9.5, MUTED)], align="right"))
L.append(texts([(f"{LAST_PRICE:.2f}", 1168, 40.5, 17.5, RED)], font=MONO, weight="bold", align="right"))

chart = alt.layer(*L).resolve_scale(x="independent", y="independent").properties(
    width=1184 - 2 * OFF, height=769 - 2 * OFF, background=BG, padding=0,
    autosize=alt.AutoSizeParams(type="none"),
).configure_view(strokeWidth=0)

chart.save("out.html", embed_options={"renderer": "svg", "actions": False})
